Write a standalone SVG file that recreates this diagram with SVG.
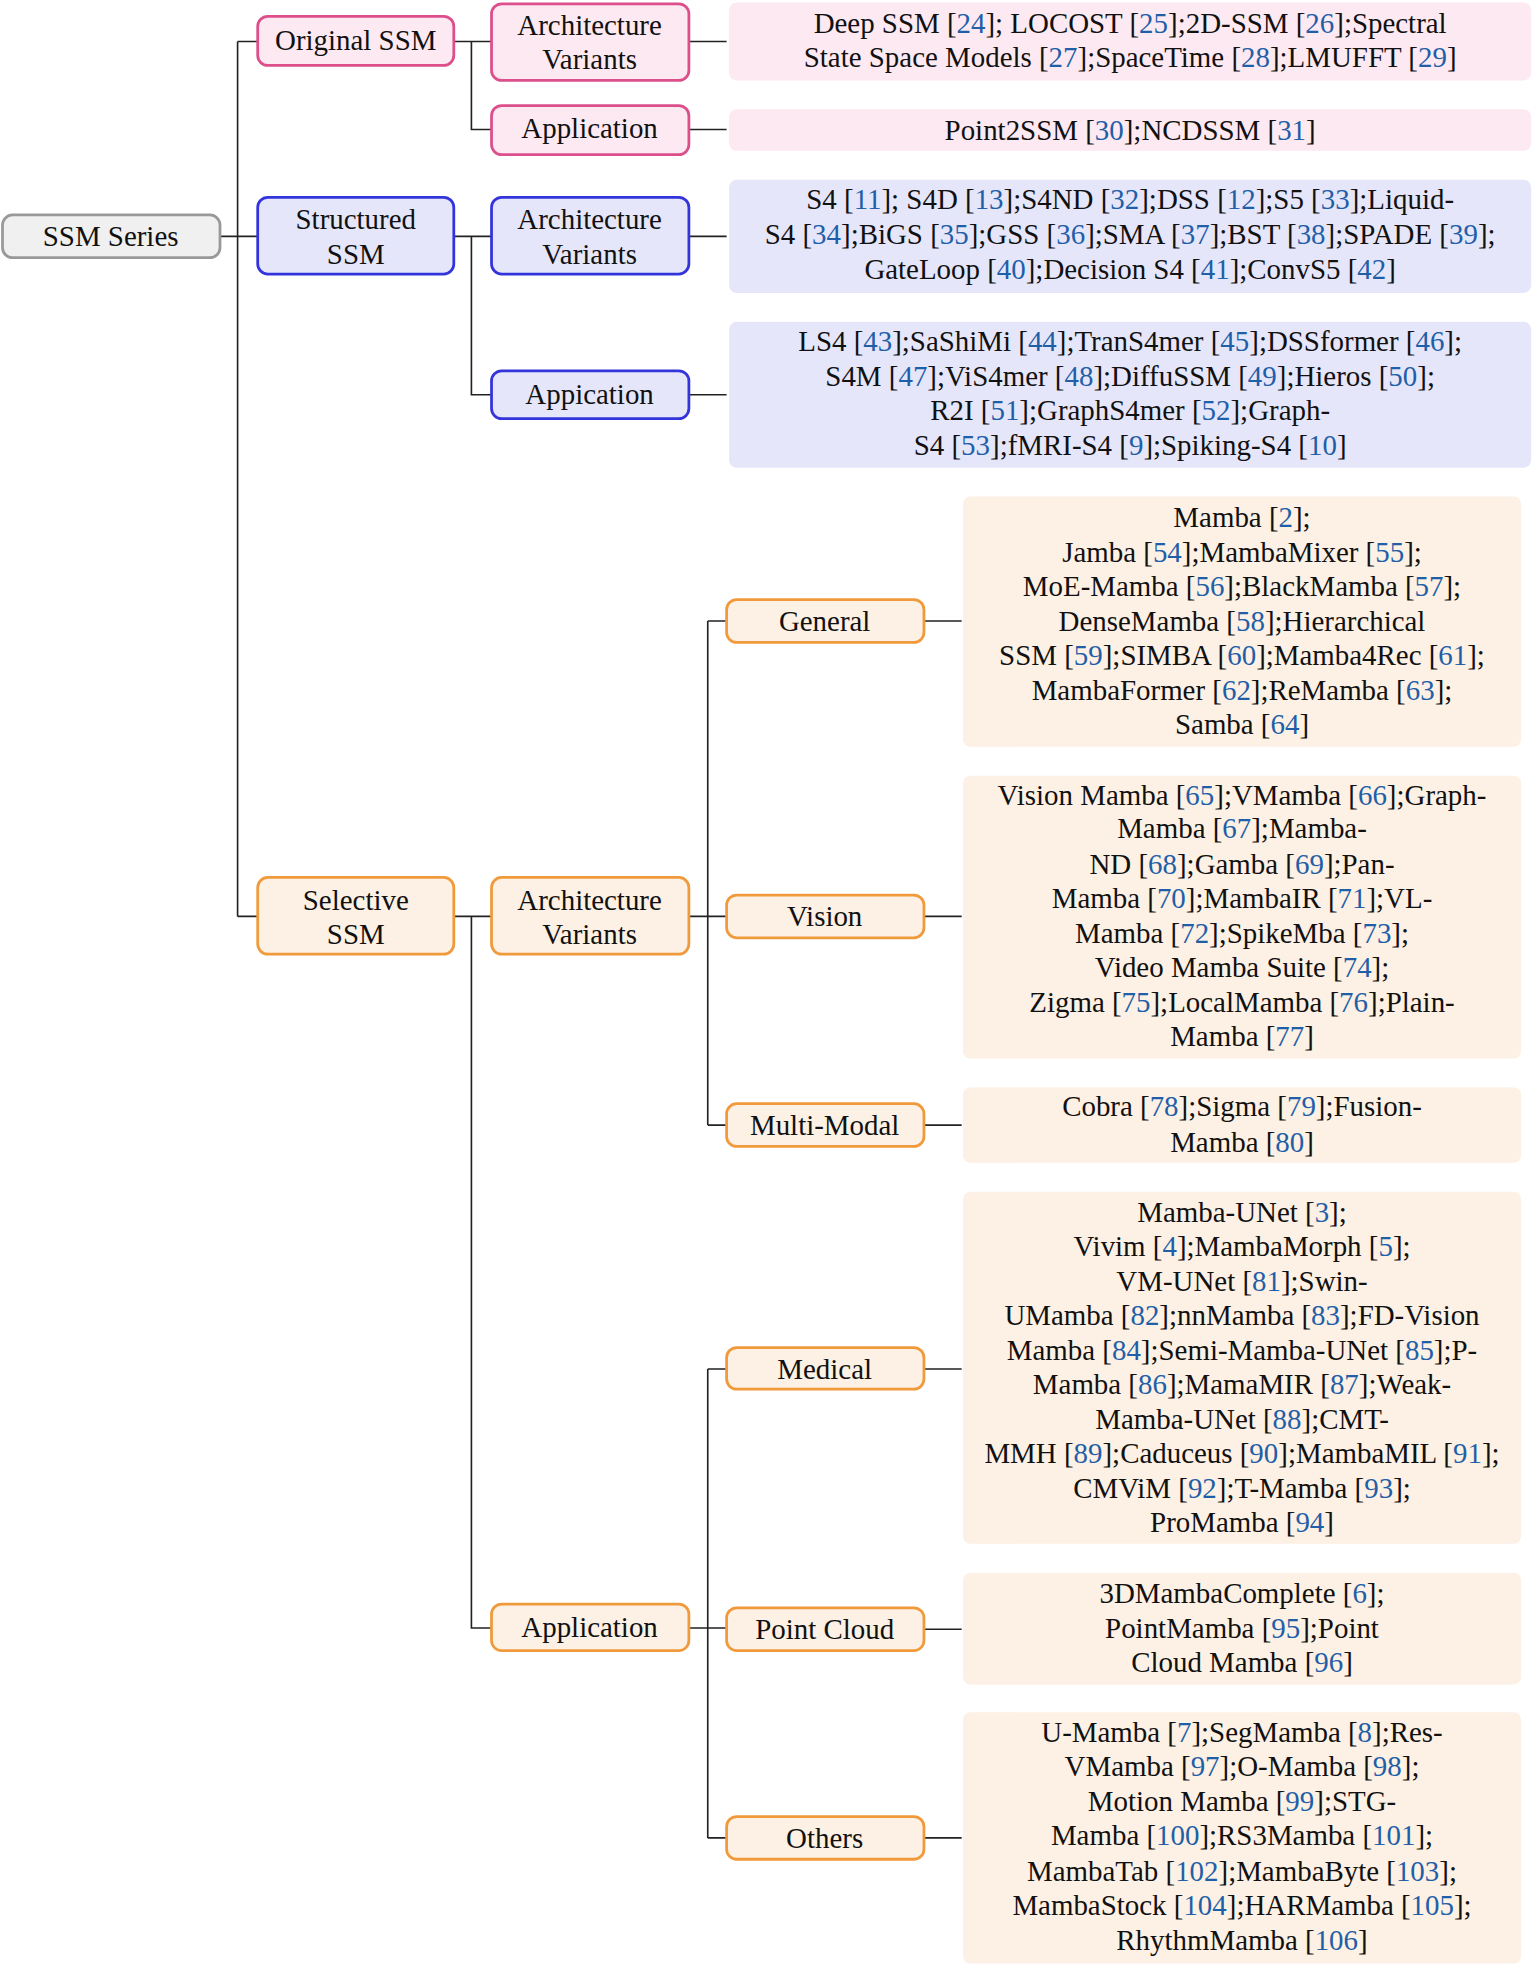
<svg xmlns="http://www.w3.org/2000/svg" width="1540" height="1974" viewBox="0 0 1540 1974">
<style>
text{font-family:"Liberation Serif","Times New Roman",serif;font-size:23px;fill:#111;text-anchor:middle}
.r{fill:#1f5fa8}
.c{fill:none;stroke:#222;stroke-width:1.3}
.root{fill:#f0f0f0;stroke:#999;stroke-width:2.2}
.pk{fill:#fde9f2;stroke:#dc4f8b;stroke-width:2.2}
.bl{fill:#e6e6fb;stroke:#3434dc;stroke-width:2.2}
.or{fill:#fdf0e4;stroke:#f09a3c;stroke-width:2.2}
.lp{fill:#fde9f2}.lb{fill:#e6e6fb}.lo{fill:#fdf0e4}
</style>
<rect width="1540" height="1974" fill="#fff"/>
<g transform="scale(1.2571)">
<g id="connectors">
<path class="c" d="M175 188H189M189 33V729M189 33H205M189 188H205M189 729H205"/>
<path class="c" d="M361 33H391M375 33V103H391M548 33H578M548 103H578"/>
<path class="c" d="M361 188H391M375 188V314H391M548 188H578M548 314H578"/>
<path class="c" d="M361 729H391M375 729V1295H391"/>
<path class="c" d="M548 729H578M563 494V895M563 494H578M563 895H578"/>
<path class="c" d="M548 1295H578M563 1089V1462M563 1089H578M563 1462H578"/>
<path class="c" d="M735 494H765M735 729H765M735 895H765M735 1089H765M735 1296H765M735 1462H765"/>
</g>
<g id="ssm-series"><rect class="root" x="2" y="171" width="173" height="34" rx="8"/><text x="88" y="196">SSM Series</text></g>
<g id="original-ssm"><rect class="pk" x="205" y="13" width="156" height="39" rx="8"/><text x="283" y="40">Original SSM</text></g>
<g id="structured-ssm"><rect class="bl" x="205" y="157" width="156" height="61" rx="8"/><text x="283" y="182">Structured</text><text x="283" y="210">SSM</text></g>
<g id="selective-ssm"><rect class="or" x="205" y="698" width="156" height="61" rx="8"/><text x="283" y="724">Selective</text><text x="283" y="751">SSM</text></g>
<g id="orig-arch"><rect class="pk" x="391" y="3" width="157" height="61" rx="8"/><text x="469" y="28">Architecture</text><text x="469" y="55">Variants</text></g>
<g id="orig-app"><rect class="pk" x="391" y="84" width="157" height="39" rx="8"/><text x="469" y="110">Application</text></g>
<g id="struct-arch"><rect class="bl" x="391" y="157" width="157" height="61" rx="8"/><text x="469" y="182">Architecture</text><text x="469" y="210">Variants</text></g>
<g id="struct-app"><rect class="bl" x="391" y="295" width="157" height="38" rx="8"/><text x="469" y="321">Appication</text></g>
<g id="sel-arch"><rect class="or" x="391" y="698" width="157" height="61" rx="8"/><text x="469" y="724">Architecture</text><text x="469" y="751">Variants</text></g>
<g id="sel-app"><rect class="or" x="391" y="1276" width="157" height="37" rx="8"/><text x="469" y="1302">Application</text></g>
<g id="general"><rect class="or" x="578" y="477" width="157" height="34" rx="8"/><text x="656" y="502">General</text></g>
<g id="vision"><rect class="or" x="578" y="712" width="157" height="34" rx="8"/><text x="656" y="737">Vision</text></g>
<g id="multi-modal"><rect class="or" x="578" y="878" width="157" height="34" rx="8"/><text x="656" y="903">Multi-Modal</text></g>
<g id="medical"><rect class="or" x="578" y="1072" width="157" height="33" rx="8"/><text x="656" y="1097">Medical</text></g>
<g id="point-cloud"><rect class="or" x="578" y="1279" width="157" height="34" rx="8"/><text x="656" y="1304">Point Cloud</text></g>
<g id="others"><rect class="or" x="578" y="1445" width="157" height="34" rx="8"/><text x="656" y="1470">Others</text></g>

<g id="leaf-orig-arch"><rect class="lp" x="580" y="2" width="638" height="62" rx="6"/>
<text x="899" y="26">Deep SSM [<tspan class="r">24</tspan>]; LOCOST [<tspan class="r">25</tspan>];2D-SSM [<tspan class="r">26</tspan>];Spectral</text>
<text x="899" y="53">State Space Models [<tspan class="r">27</tspan>];SpaceTime [<tspan class="r">28</tspan>];LMUFFT [<tspan class="r">29</tspan>]</text></g>
<g id="leaf-orig-app"><rect class="lp" x="580" y="87" width="638" height="33" rx="6"/>
<text x="899" y="111">Point2SSM [<tspan class="r">30</tspan>];NCDSSM [<tspan class="r">31</tspan>]</text></g>
<g id="leaf-struct-arch"><rect class="lb" x="580" y="143" width="638" height="90" rx="6"/>
<text x="899" y="166">S4 [<tspan class="r">11</tspan>]; S4D [<tspan class="r">13</tspan>];S4ND [<tspan class="r">32</tspan>];DSS [<tspan class="r">12</tspan>];S5 [<tspan class="r">33</tspan>];Liquid-</text>
<text x="899" y="194">S4 [<tspan class="r">34</tspan>];BiGS [<tspan class="r">35</tspan>];GSS [<tspan class="r">36</tspan>];SMA [<tspan class="r">37</tspan>];BST [<tspan class="r">38</tspan>];SPADE [<tspan class="r">39</tspan>];</text>
<text x="899" y="222">GateLoop [<tspan class="r">40</tspan>];Decision S4 [<tspan class="r">41</tspan>];ConvS5 [<tspan class="r">42</tspan>]</text></g>
<g id="leaf-struct-app"><rect class="lb" x="580" y="256" width="638" height="116" rx="6"/>
<text x="899" y="279">LS4 [<tspan class="r">43</tspan>];SaShiMi [<tspan class="r">44</tspan>];TranS4mer [<tspan class="r">45</tspan>];DSSformer [<tspan class="r">46</tspan>];</text>
<text x="899" y="307">S4M [<tspan class="r">47</tspan>];ViS4mer [<tspan class="r">48</tspan>];DiffuSSM [<tspan class="r">49</tspan>];Hieros [<tspan class="r">50</tspan>];</text>
<text x="899" y="334">R2I [<tspan class="r">51</tspan>];GraphS4mer [<tspan class="r">52</tspan>];Graph-</text>
<text x="899" y="362">S4 [<tspan class="r">53</tspan>];fMRI-S4 [<tspan class="r">9</tspan>];Spiking-S4 [<tspan class="r">10</tspan>]</text></g>
<g id="leaf-general"><rect class="lo" x="766" y="395" width="444" height="199" rx="6"/>
<text x="988" y="419">Mamba [<tspan class="r">2</tspan>];</text>
<text x="988" y="447">Jamba [<tspan class="r">54</tspan>];MambaMixer [<tspan class="r">55</tspan>];</text>
<text x="988" y="474">MoE-Mamba [<tspan class="r">56</tspan>];BlackMamba [<tspan class="r">57</tspan>];</text>
<text x="988" y="502">DenseMamba [<tspan class="r">58</tspan>];Hierarchical</text>
<text x="988" y="529">SSM [<tspan class="r">59</tspan>];SIMBA [<tspan class="r">60</tspan>];Mamba4Rec [<tspan class="r">61</tspan>];</text>
<text x="988" y="557">MambaFormer [<tspan class="r">62</tspan>];ReMamba [<tspan class="r">63</tspan>];</text>
<text x="988" y="584">Samba [<tspan class="r">64</tspan>]</text></g>
<g id="leaf-vision"><rect class="lo" x="766" y="617" width="444" height="225" rx="6"/>
<text x="988" y="640">Vision Mamba [<tspan class="r">65</tspan>];VMamba [<tspan class="r">66</tspan>];Graph-</text>
<text x="988" y="667">Mamba [<tspan class="r">67</tspan>];Mamba-</text>
<text x="988" y="695">ND [<tspan class="r">68</tspan>];Gamba [<tspan class="r">69</tspan>];Pan-</text>
<text x="988" y="722">Mamba [<tspan class="r">70</tspan>];MambaIR [<tspan class="r">71</tspan>];VL-</text>
<text x="988" y="750">Mamba [<tspan class="r">72</tspan>];SpikeMba [<tspan class="r">73</tspan>];</text>
<text x="988" y="777">Video Mamba Suite [<tspan class="r">74</tspan>];</text>
<text x="988" y="805">Zigma [<tspan class="r">75</tspan>];LocalMamba [<tspan class="r">76</tspan>];Plain-</text>
<text x="988" y="832">Mamba [<tspan class="r">77</tspan>]</text></g>
<g id="leaf-mm"><rect class="lo" x="766" y="865" width="444" height="60" rx="6"/>
<text x="988" y="888">Cobra [<tspan class="r">78</tspan>];Sigma [<tspan class="r">79</tspan>];Fusion-</text>
<text x="988" y="916">Mamba [<tspan class="r">80</tspan>]</text></g>
<g id="leaf-medical"><rect class="lo" x="766" y="948" width="444" height="280" rx="6"/>
<text x="988" y="972">Mamba-UNet [<tspan class="r">3</tspan>];</text>
<text x="988" y="999">Vivim [<tspan class="r">4</tspan>];MambaMorph [<tspan class="r">5</tspan>];</text>
<text x="988" y="1027">VM-UNet [<tspan class="r">81</tspan>];Swin-</text>
<text x="988" y="1054">UMamba [<tspan class="r">82</tspan>];nnMamba [<tspan class="r">83</tspan>];FD-Vision</text>
<text x="988" y="1082">Mamba [<tspan class="r">84</tspan>];Semi-Mamba-UNet [<tspan class="r">85</tspan>];P-</text>
<text x="988" y="1109">Mamba [<tspan class="r">86</tspan>];MamaMIR [<tspan class="r">87</tspan>];Weak-</text>
<text x="988" y="1137">Mamba-UNet [<tspan class="r">88</tspan>];CMT-</text>
<text x="988" y="1164">MMH [<tspan class="r">89</tspan>];Caduceus [<tspan class="r">90</tspan>];MambaMIL [<tspan class="r">91</tspan>];</text>
<text x="988" y="1192">CMViM [<tspan class="r">92</tspan>];T-Mamba [<tspan class="r">93</tspan>];</text>
<text x="988" y="1219">ProMamba [<tspan class="r">94</tspan>]</text></g>
<g id="leaf-pc"><rect class="lo" x="766" y="1251" width="444" height="89" rx="6"/>
<text x="988" y="1275">3DMambaComplete [<tspan class="r">6</tspan>];</text>
<text x="988" y="1303">PointMamba [<tspan class="r">95</tspan>];Point</text>
<text x="988" y="1330">Cloud Mamba [<tspan class="r">96</tspan>]</text></g>
<g id="leaf-others"><rect class="lo" x="766" y="1362" width="444" height="200" rx="6"/>
<text x="988" y="1386">U-Mamba [<tspan class="r">7</tspan>];SegMamba [<tspan class="r">8</tspan>];Res-</text>
<text x="988" y="1413">VMamba [<tspan class="r">97</tspan>];O-Mamba [<tspan class="r">98</tspan>];</text>
<text x="988" y="1441">Motion Mamba [<tspan class="r">99</tspan>];STG-</text>
<text x="988" y="1468">Mamba [<tspan class="r">100</tspan>];RS3Mamba [<tspan class="r">101</tspan>];</text>
<text x="988" y="1496">MambaTab [<tspan class="r">102</tspan>];MambaByte [<tspan class="r">103</tspan>];</text>
<text x="988" y="1523">MambaStock [<tspan class="r">104</tspan>];HARMamba [<tspan class="r">105</tspan>];</text>
<text x="988" y="1551">RhythmMamba [<tspan class="r">106</tspan>]</text></g>
</g>
</svg>
